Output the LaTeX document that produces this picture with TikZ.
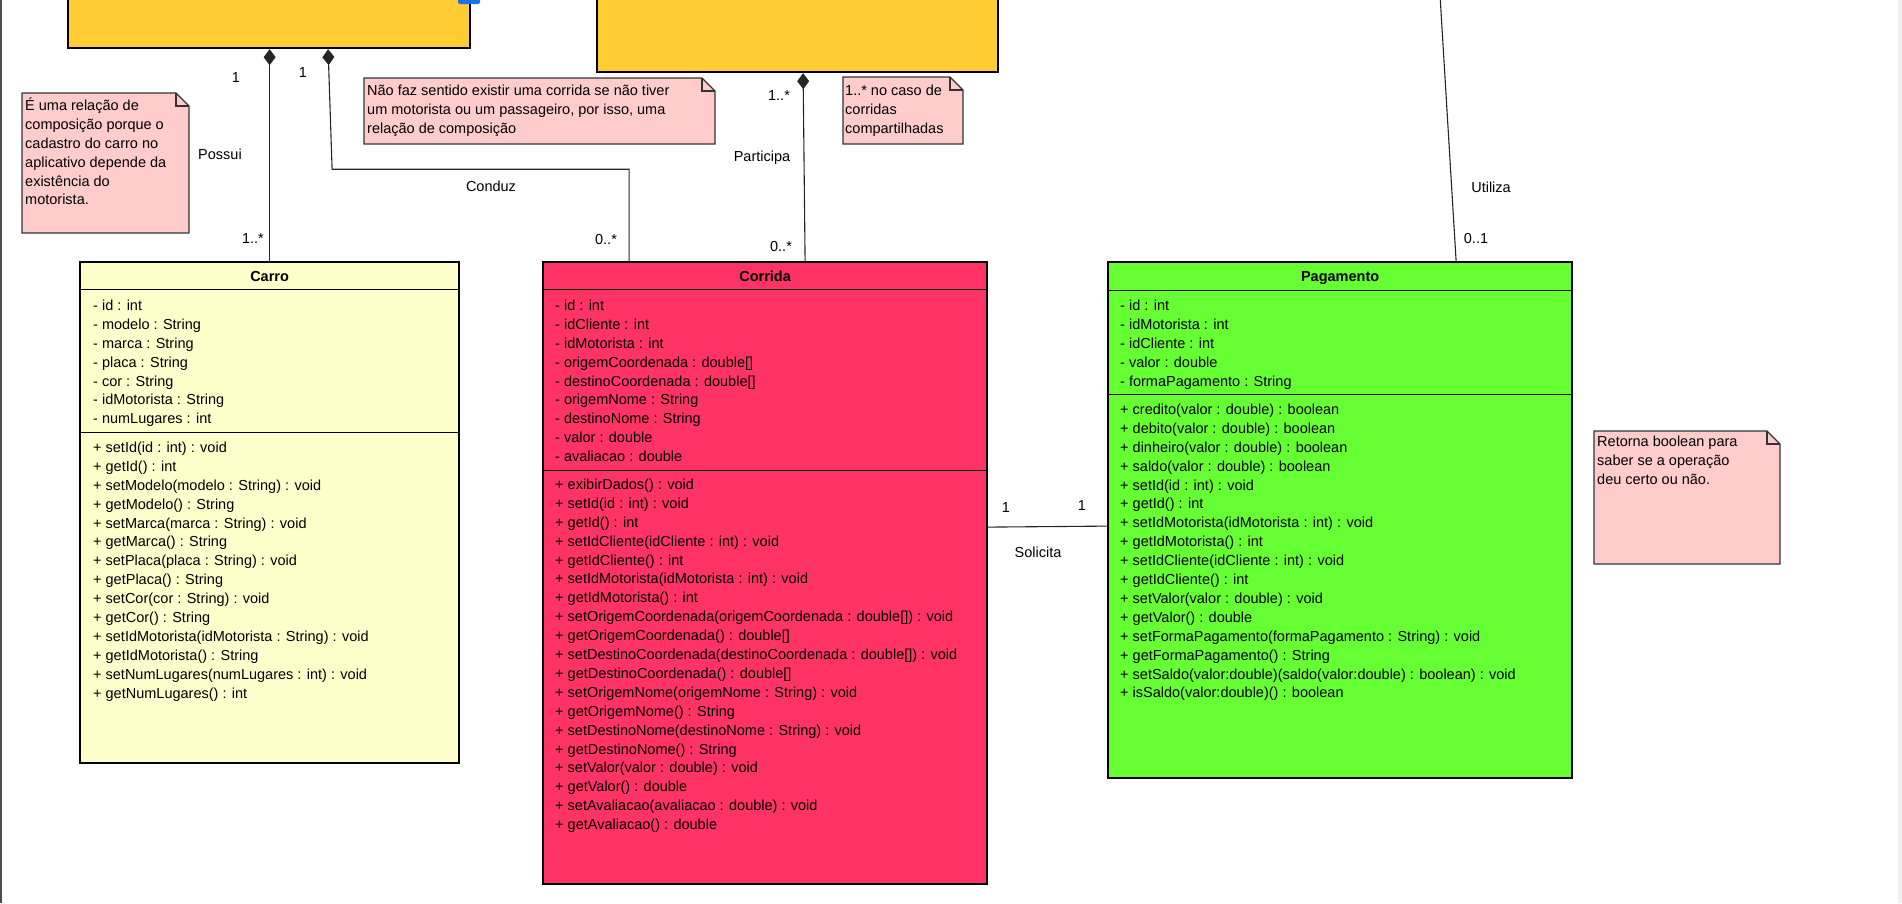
\documentclass[tikz,border=0pt]{standalone}
\usepackage{fontspec}
\setmainfont{Liberation Sans}
\usetikzlibrary{arrows.meta}
\definecolor{amarelo}{RGB}{255,204,51}
\definecolor{creme}{RGB}{255,255,204}
\definecolor{rosa}{RGB}{255,51,102}
\definecolor{verde}{RGB}{102,255,51}
\definecolor{notafundo}{RGB}{255,204,204}
\definecolor{azul}{RGB}{30,110,230}

\begin{document}
\begin{tikzpicture}[x=1pt,y=-1pt,
	txt/.style={font=\fontsize{14.5}{18.9}\selectfont, inner sep=0pt},
	linhas/.style={txt, align=left, anchor=north west},
	rotulo/.style={txt, text height=10.5pt, text depth=0pt},
	titulo/.style={rotulo, font=\fontsize{14.5}{18.9}\selectfont\bfseries},
	classe/.style={draw=black, line width=2.2pt, anchor=north west, inner sep=0pt},
	divisao/.style={line width=1pt},
	comp/.style={{Diamond[length=16pt,width=12pt]}-, line width=1.1pt, black!85},
	assoc/.style={line width=1.1pt, black!85},
	nota/.style={draw=black!80, fill=notafundo, line width=1.3pt}]% canvas in pixels
	\useasboundingbox (0,0) rectangle (1902,903);
	\clip (0,0) rectangle (1902,903);
	\draw[black!70, line width=1.5pt] (1,0) -- (1,903);
	\draw[black!6, line width=4pt] (1900,0) -- (1900,903);
	
	% classes cut at the top
	\node[classe, fill=amarelo, minimum width=402pt, minimum height=80pt] (motorista) at (67,-33) {};
	\node[classe, fill=amarelo, minimum width=401pt, minimum height=104pt] (passageiro) at (596,-33) {};
	\fill[azul, rounded corners=2pt] (458,-6) rectangle (480,4);
	
	% Carro
	\node[classe, fill=creme, minimum width=379pt, minimum height=501pt] (carro) at (79,261) {};
	\draw[divisao] ([yshift=-28pt]carro.north west) -- ([yshift=-28pt]carro.north east);
	\draw[divisao] ([yshift=-171pt]carro.north west) -- ([yshift=-171pt]carro.north east);
	\node[titulo] (carroNome) at ([yshift=-15pt]carro.north) {Carro};
	\node[linhas] (carroAtrib) at ([xshift=14pt,yshift=-36pt]carro.north west) {\strut- id : int\\- modelo : String\\- marca : String\\- placa : String\\- cor : String\\- idMotorista : String\\- numLugares : int};
	\node[linhas] (carroOper) at ([xshift=14pt,yshift=-178pt]carro.north west) {\strut+ setId(id : int) : void\\+ getId() : int\\+ setModelo(modelo : String) : void\\+ getModelo() : String\\+ setMarca(marca : String) : void\\+ getMarca() : String\\+ setPlaca(placa : String) : void\\+ getPlaca() : String\\+ setCor(cor : String) : void\\+ getCor() : String\\+ setIdMotorista(idMotorista : String) : void\\+ getIdMotorista() : String\\+ setNumLugares(numLugares : int) : void\\+ getNumLugares() : int};
	
	% Corrida
	\node[classe, fill=rosa, minimum width=444pt, minimum height=622pt] (corrida) at (542,261) {};
	\draw[divisao] ([yshift=-28pt]corrida.north west) -- ([yshift=-28pt]corrida.north east);
	\draw[divisao] ([yshift=-209pt]corrida.north west) -- ([yshift=-209pt]corrida.north east);
	\node[titulo] (corridaNome) at ([yshift=-15pt]corrida.north) {Corrida};
	\node[linhas] (corridaAtrib) at ([xshift=13pt,yshift=-36pt]corrida.north west) {\strut- id : int\\- idCliente : int\\- idMotorista : int\\- origemCoordenada : double[]\\- destinoCoordenada : double[]\\- origemNome : String\\- destinoNome : String\\- valor : double\\- avaliacao : double};
	\node[linhas] (corridaOper) at ([xshift=13pt,yshift=-215pt]corrida.north west) {\strut+ exibirDados() : void\\+ setId(id : int) : void\\+ getId() : int\\+ setIdCliente(idCliente : int) : void\\+ getIdCliente() : int\\+ setIdMotorista(idMotorista : int) : void\\+ getIdMotorista() : int\\+ setOrigemCoordenada(origemCoordenada : double[]) : void\\+ getOrigemCoordenada() : double[]\\+ setDestinoCoordenada(destinoCoordenada : double[]) : void\\+ getDestinoCoordenada() : double[]\\+ setOrigemNome(origemNome : String) : void\\+ getOrigemNome() : String\\+ setDestinoNome(destinoNome : String) : void\\+ getDestinoNome() : String\\+ setValor(valor : double) : void\\+ getValor() : double\\+ setAvaliacao(avaliacao : double) : void\\+ getAvaliacao() : double};
	
	% Pagamento
	\node[classe, fill=verde, minimum width=464pt, minimum height=516pt] (pagamento) at (1107,261) {};
	\draw[divisao] ([yshift=-29pt]pagamento.north west) -- ([yshift=-29pt]pagamento.north east);
	\draw[divisao] ([yshift=-133pt]pagamento.north west) -- ([yshift=-133pt]pagamento.north east);
	\node[titulo] (pagamentoNome) at ([yshift=-15pt]pagamento.north) {Pagamento};
	\node[linhas] (pagamentoAtrib) at ([xshift=13pt,yshift=-36pt]pagamento.north west) {\strut- id : int\\- idMotorista : int\\- idCliente : int\\- valor : double\\- formaPagamento : String};
	\node[linhas] (pagamentoOper) at ([xshift=13pt,yshift=-140pt]pagamento.north west) {\strut+ credito(valor : double) : boolean\\+ debito(valor : double) : boolean\\+ dinheiro(valor : double) : boolean\\+ saldo(valor : double) : boolean\\+ setId(id : int) : void\\+ getId() : int\\+ setIdMotorista(idMotorista : int) : void\\+ getIdMotorista() : int\\+ setIdCliente(idCliente : int) : void\\+ getIdCliente() : int\\+ setValor(valor : double) : void\\+ getValor() : double\\+ setFormaPagamento(formaPagamento : String) : void\\+ getFormaPagamento() : String\\+ setSaldo(valor:double)(saldo(valor:double) : boolean) : void\\+ isSaldo(valor:double)() : boolean};
	
	% connectors
	\draw[comp] (carro.north |- motorista.south) -- (carro.north);
	\draw[comp] ([xshift=59pt]motorista.south) -- ++(4,120) -| ([xshift=-136pt]corrida.north);
	\draw[comp] ([xshift=5.5pt]passageiro.south) -- ([xshift=40pt]corrida.north);
	\coordinate (topoUtiliza) at (1440,-5);
	\draw[assoc] (topoUtiliza) -- ([xshift=116pt]pagamento.north);
	\draw[assoc] ([yshift=46pt]corrida.east) -- ([yshift=-6pt]pagamento.west);
	
	\node[rotulo] (multPossuiA) at (236,77) {1};
	\node[rotulo] (multPossuiB) at (253,238) {1..*};
	\node[rotulo] (possui) at (220,154) {Possui};
	\node[rotulo] (multConduzA) at (303,72) {1};
	\node[rotulo] (multConduzB) at (606,239) {0..*};
	\node[rotulo] (conduz) at (491,186) {Conduz};
	\node[rotulo] (multParticipaA) at (779,95) {1..*};
	\node[rotulo] (multParticipaB) at (781,246) {0..*};
	\node[rotulo] (participa) at (762,156) {Participa};
	\node[rotulo] (utiliza) at (1491,187) {Utiliza};
	\node[rotulo] (multUtiliza) at (1476,238) {0..1};
	\node[rotulo] (multSolicitaA) at (1006,507) {1};
	\node[rotulo] (multSolicitaB) at (1082,505) {1};
	\node[rotulo] (solicita) at (1038,552) {Solicita};
	
	% notes
	\draw[nota] (22,93) -- (176,93) -- (189,106) -- (189,233) -- (22,233) -- cycle;
	\draw[nota, fill=none] (176,93) |- (189,106);
	\node[linhas] (notaCarro) at (25,97) {\strut É uma relação de\\composição porque o\\cadastro do carro no\\aplicativo depende da\\existência do\\motorista.};
	\draw[nota] (364,78) -- (702,78) -- (715,91) -- (715,144) -- (364,144) -- cycle;
	\draw[nota, fill=none] (702,78) |- (715,91);
	\node[linhas] (notaConduz) at (367,82) {\strut Não faz sentido existir uma corrida se não tiver\\um motorista ou um passageiro, por isso, uma\\relação de composição};
	\draw[nota] (843,77) -- (950,77) -- (963,90) -- (963,144) -- (843,144) -- cycle;
	\draw[nota, fill=none] (950,77) |- (963,90);
	\node[linhas] (notaParticipa) at (845,82) {\strut1..* no caso de\\corridas\\compartilhadas};
	\draw[nota] (1594,431) -- (1767,431) -- (1780,444) -- (1780,564) -- (1594,564) -- cycle;
	\draw[nota, fill=none] (1767,431) |- (1780,444);
	\node[linhas] (notaSaldo) at (1597,433) {\strut Retorna boolean para\\saber se a operação\\deu certo ou não.};
\end{tikzpicture}
\end{document}
